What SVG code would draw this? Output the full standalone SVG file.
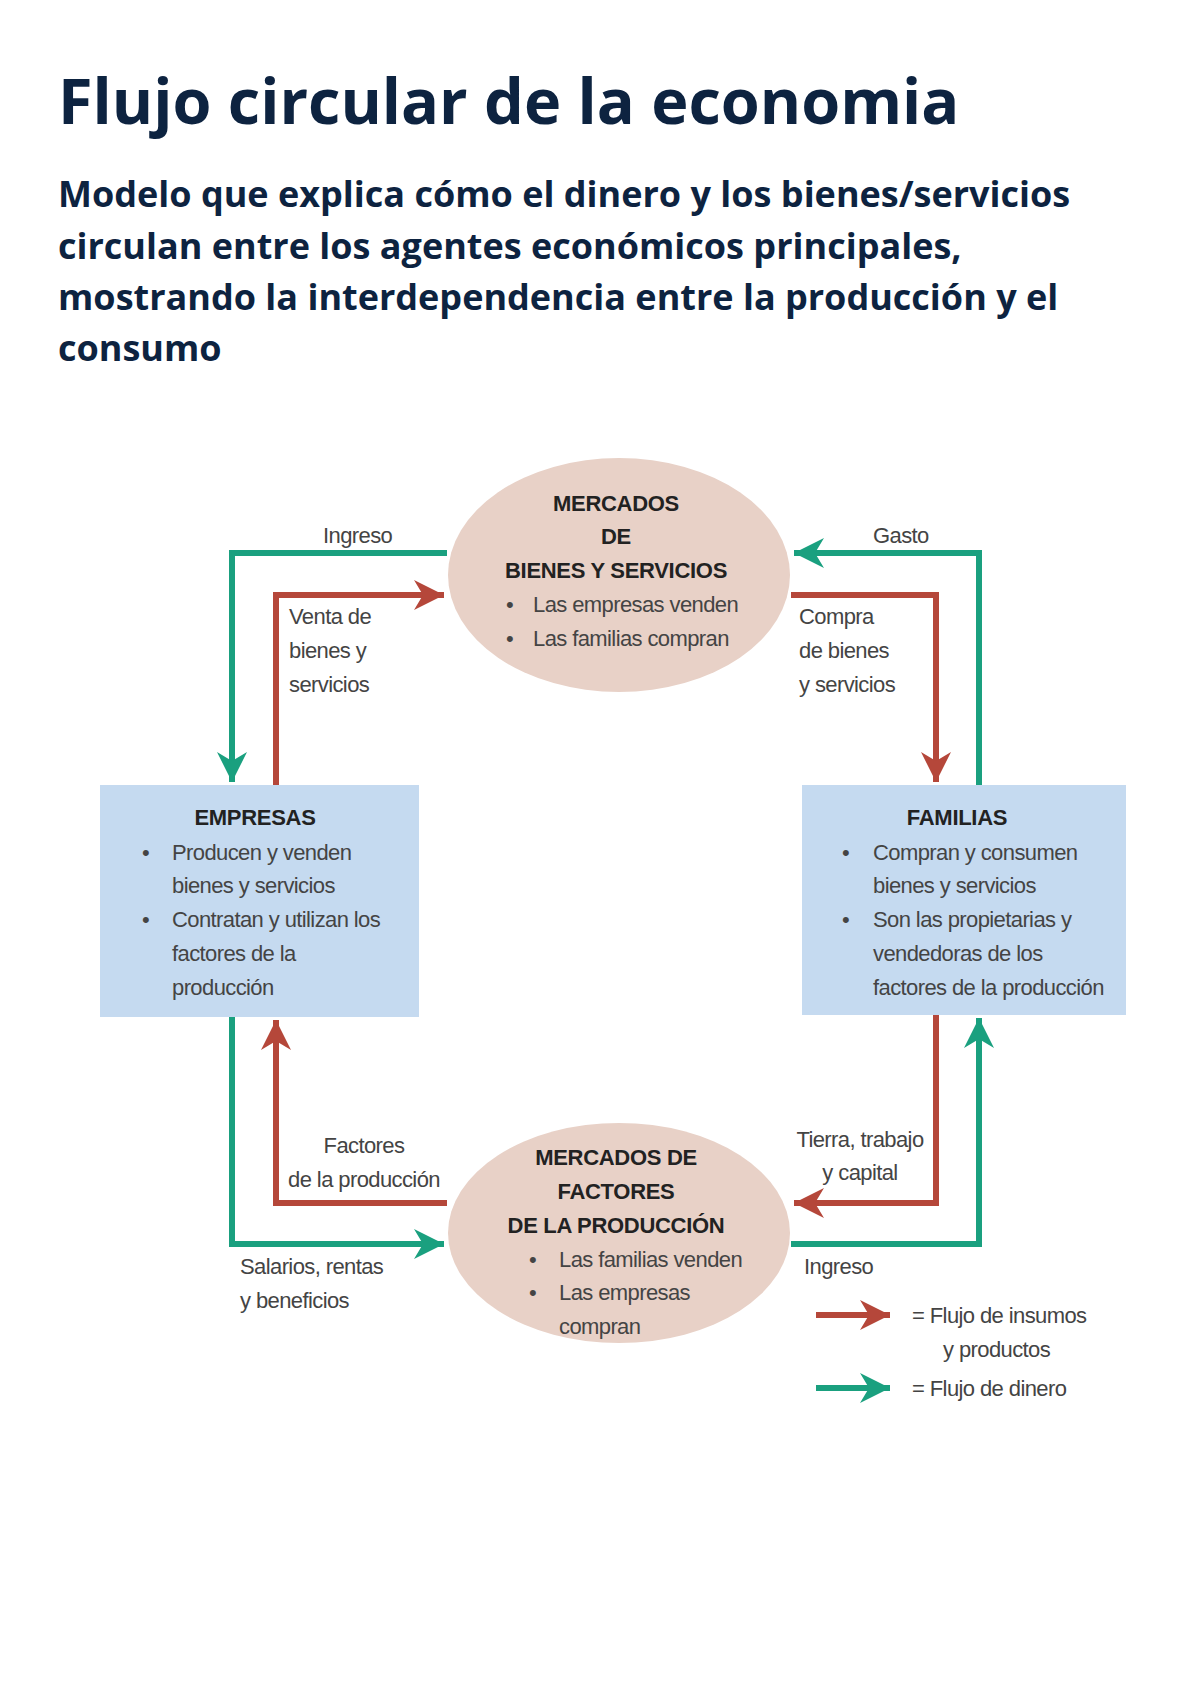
<svg xmlns="http://www.w3.org/2000/svg" width="1200" height="1696" viewBox="0 0 1200 1696">
<style>
.t{font-family:"Open Sans","Noto Sans",sans-serif;font-weight:bold;fill:#0d2340}
.l{font-family:"Liberation Sans",Arial,sans-serif;font-size:22px;fill:#444;letter-spacing:-0.6px}
.h{font-family:"Liberation Sans",Arial,sans-serif;font-size:22px;font-weight:bold;fill:#222;text-anchor:middle;letter-spacing:-0.3px}
.g{fill:none;stroke:#1aa07f;stroke-width:6}
.r{fill:none;stroke:#b5473a;stroke-width:6}
.ell{fill:#e8d1c7}
.box{fill:#c5daf0}
</style>
<defs>
<marker id="ag" viewBox="0 0 10 10" refX="10" refY="5" markerWidth="5" markerHeight="5" orient="auto" markerUnits="strokeWidth"><path d="M0,0 L10,5 L0,10 L3,5 Z" fill="#1aa07f"/></marker>
<marker id="ar" viewBox="0 0 10 10" refX="10" refY="5" markerWidth="5" markerHeight="5" orient="auto" markerUnits="strokeWidth"><path d="M0,0 L10,5 L0,10 L3,5 Z" fill="#b5473a"/></marker>
</defs>
<rect width="1200" height="1696" fill="#fff"/>
<text class="t" x="58" y="124" font-size="63">Flujo circular de la economia</text>
<g class="t" font-size="36">
<text x="58" y="207">Modelo que explica cómo el dinero y los bienes/servicios</text>
<text x="58" y="259">circulan entre los agentes económicos principales,</text>
<text x="58" y="310">mostrando la interdependencia entre la producción y el</text>
<text x="58" y="361">consumo</text>
</g>
<g id="connectors">
<path class="g" d="M447,553 H232 V782" marker-end="url(#ag)"/>
<path class="r" d="M276,785 V595 H444" marker-end="url(#ar)"/>
<path class="g" d="M979,785 V553 H794" marker-end="url(#ag)"/>
<path class="r" d="M791,595 H936 V782" marker-end="url(#ar)"/>
<path class="g" d="M232,1017 V1244 H444" marker-end="url(#ag)"/>
<path class="r" d="M447,1203 H276 V1020" marker-end="url(#ar)"/>
<path class="r" d="M936,1015 V1203 H794" marker-end="url(#ar)"/>
<path class="g" d="M791,1244 H979 V1018" marker-end="url(#ag)"/>
<path class="r" d="M816,1315 H890" marker-end="url(#ar)"/>
<path class="g" d="M816,1388 H890" marker-end="url(#ag)"/>
</g>
<g id="mercado-bienes">
<ellipse class="ell" cx="619" cy="575" rx="171" ry="117"/>
<text class="h" x="616" y="511">MERCADOS</text>
<text class="h" x="616" y="544">DE</text>
<text class="h" x="616" y="578">BIENES Y SERVICIOS</text>
<text class="l" x="506" y="612">•</text><text class="l" x="533" y="612">Las empresas venden</text>
<text class="l" x="506" y="646">•</text><text class="l" x="533" y="646">Las familias compran</text>
</g>
<g id="empresas">
<rect class="box" x="100" y="785" width="319" height="232"/>
<text class="h" x="255" y="825">EMPRESAS</text>
<text class="l" x="142" y="860">•</text><text class="l" x="172" y="860">Producen y venden</text>
<text class="l" x="172" y="893">bienes y servicios</text>
<text class="l" x="142" y="927">•</text><text class="l" x="172" y="927">Contratan y utilizan los</text>
<text class="l" x="172" y="961">factores de la</text>
<text class="l" x="172" y="995">producción</text>
</g>
<g id="familias">
<rect class="box" x="802" y="785" width="324" height="230"/>
<text class="h" x="957" y="825">FAMILIAS</text>
<text class="l" x="842" y="860">•</text><text class="l" x="873" y="860">Compran y consumen</text>
<text class="l" x="873" y="893">bienes y servicios</text>
<text class="l" x="842" y="927">•</text><text class="l" x="873" y="927">Son las propietarias y</text>
<text class="l" x="873" y="961">vendedoras de los</text>
<text class="l" x="873" y="995">factores de la producción</text>
</g>
<g id="mercado-factores">
<ellipse class="ell" cx="619" cy="1233" rx="171" ry="110"/>
<text class="h" x="616" y="1165">MERCADOS DE</text>
<text class="h" x="616" y="1199">FACTORES</text>
<text class="h" x="616" y="1233">DE LA PRODUCCIÓN</text>
<text class="l" x="529" y="1267">•</text><text class="l" x="559" y="1267">Las familias venden</text>
<text class="l" x="529" y="1300">•</text><text class="l" x="559" y="1300">Las empresas</text>
<text class="l" x="559" y="1334">compran</text>
</g>
<g id="labels">
<text class="l" x="323" y="543">Ingreso</text>
<text class="l" x="289" y="624">Venta de</text>
<text class="l" x="289" y="658">bienes y</text>
<text class="l" x="289" y="692">servicios</text>
<text class="l" x="873" y="543">Gasto</text>
<text class="l" x="799" y="624">Compra</text>
<text class="l" x="799" y="658">de bienes</text>
<text class="l" x="799" y="692">y servicios</text>
<text class="l" x="364" y="1153" text-anchor="middle">Factores</text>
<text class="l" x="364" y="1187" text-anchor="middle">de la producción</text>
<text class="l" x="860" y="1147" text-anchor="middle">Tierra, trabajo</text>
<text class="l" x="860" y="1180" text-anchor="middle">y capital</text>
<text class="l" x="240" y="1274">Salarios, rentas</text>
<text class="l" x="240" y="1308">y beneficios</text>
<text class="l" x="804" y="1274">Ingreso</text>
<text class="l" x="912" y="1323">= Flujo de insumos</text>
<text class="l" x="943" y="1357">y productos</text>
<text class="l" x="912" y="1396">= Flujo de dinero</text>
</g>
</svg>
